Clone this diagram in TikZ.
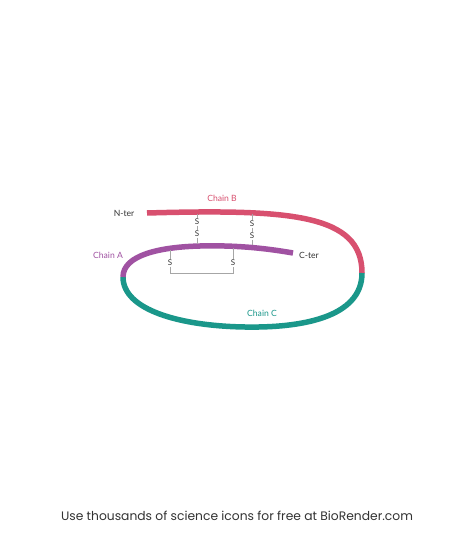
\documentclass[tikz,border=0pt]{standalone}
\usepackage{fontspec}
\setmainfont{Lato}
\newfontfamily\footfont{Poppins}
\usepackage{xcolor}
\definecolor{chainb}{HTML}{D8506F}
\definecolor{chainc}{HTML}{1A978A}
\definecolor{chaina}{HTML}{A052A2}
\definecolor{txtdark}{HTML}{333333}

\begin{document}
\begin{tikzpicture}[x=1pt, y=-1pt]
\tikzset{
  chain/.style = {line width=5.5pt, line cap=butt},
  bond/.style = {draw=gray!70, line width=0.6pt},
  sulf/.style = {font=\fontsize{8}{9}\selectfont, text=txtdark, inner sep=0.6pt},
  lbl/.style = {font=\fontsize{8.6}{10}\selectfont, inner sep=0pt}
}
\fill[white] (0,0) rectangle (474,534);
\useasboundingbox (0,0) rectangle (474,534);

% chains
\draw[chain, chainb] (147,213) .. controls (290,209) and (362,214) .. (362,273);
\draw[chain, chainc] (362,273) .. controls (362,318) and (300,328) .. (245,327)
                             .. controls (180,326) and (123,310) .. (123,277);
\draw[chain, chaina] (123,277) .. controls (123,255) and (160,247) .. (200,246)
                             .. controls (240,245) and (270,249) .. (293,253);

% anchor points on the chains
\coordinate (b1) at (197,214);
\coordinate (b2) at (252,214);
\coordinate (a1) at (197,244);
\coordinate (a2) at (252,245);
\coordinate (a3) at (170,250);
\coordinate (a4) at (233,248);

% disulfide bridges
\node[sulf] (s1) at (197,222) {S};
\node[sulf] (s2) at (197,234) {S};
\node[sulf] (s3) at (252,224) {S};
\node[sulf] (s4) at (252,236) {S};
\node[sulf] (s5) at (170,263) {S};
\node[sulf] (s6) at (233,263) {S};
\coordinate (k5) at (170,273);
\coordinate (k6) at (233,273);

\path[bond] (b1) -- (s1);
\path[bond] (s1) -- (s2);
\path[bond] (s2) -- (a1);
\path[bond] (b2) -- (s3);
\path[bond] (s3) -- (s4);
\path[bond] (s4) -- (a2);
\path[bond] (a3) -- (s5);
\path[bond] (a4) -- (s6);
\path[bond] (s5) -- (k5) -- (k6) -- (s6);

% labels
\node[lbl, text=chainb] (lb) at (222,198) {Chain B};
\node[lbl, text=txtdark] (nter) at (124,213) {N-ter};
\node[lbl, text=chaina] (la) at (108,255) {Chain A};
\node[lbl, text=txtdark] (cter) at (309,255) {C-ter};
\node[lbl, text=chainc] (lc) at (262,313) {Chain C};

\node[font=\footfont\fontsize{12.3}{14}\selectfont, text=txtdark] (foot) at (237,516)
  {Use thousands of science icons for free at BioRender.com};
\end{tikzpicture}
\end{document}
